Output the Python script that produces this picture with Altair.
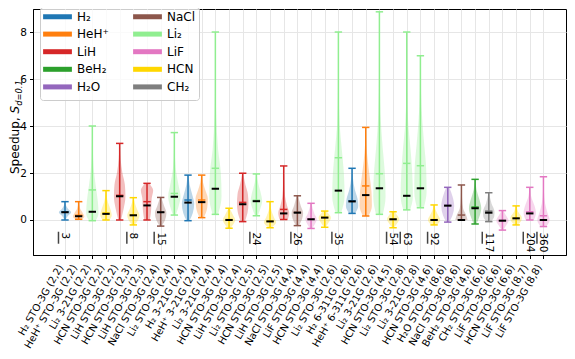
import json
import altair as alt
import pandas as pd

FONT = "DejaVu Sans"

categories = [
    "H₂ STO-3G (2,2)", "HeH⁺ STO-3G (2,2)", "Li₂ 3-21G (2,2)", "HCN STO-3G (2,2)", "LiH STO-3G (2,2)",
    "HCN STO-3G (2,3)", "LiH STO-3G (2,3)",
    "NaCl STO-3G (2,4)", "Li₂ STO-3G (2,4)", "H₂ 3-21G (2,4)", "HeH⁺ 3-21G (2,4)", "Li₂ 3-21G (2,4)",
    "HCN STO-3G (2,4)", "LiH STO-3G (2,4)",
    "Li₂ STO-3G (2,5)", "HCN STO-3G (2,5)", "LiH STO-3G (2,5)",
    "NaCl STO-3G (4,4)", "LiF STO-3G (4,4)", "HCN STO-3G (4,4)",
    "Li₂ STO-3G (2,6)", "H₂ 6-311G (2,6)", "HeH⁺ 6-311G (2,6)", "Li₂ 3-21G (2,6)",
    "HCN STO-3G (4,5)", "Li₂ STO-3G (2,8)", "Li₂ 3-21G (2,8)",
    "HCN STO-3G (4,6)", "H₂O STO-3G (8,6)", "NaCl STO-3G (8,6)", "BeH₂ STO-3G (4,6)",
    "CH₂ STO-3G (6,6)", "LiF STO-3G (6,6)", "HCN STO-3G (6,6)", "LiF STO-3G (8,7)", "LiF STO-3G (8,8)",
]
molecules = [c.split(" ")[0] for c in categories]

v_min = [0.0, 0.03, -0.03, 0.0, 0.0, -0.21, 0.0, -0.26, 0.21, -0.03, 0.10, 0.24, -0.35, -0.07,
         0.18, -0.33, 0.02, -0.24, -0.36, -0.31, 0.31, 0.28, 0.17, 0.24, -0.33, 0.43, 0.52,
         -0.21, -0.09, 0.0, -0.17, -0.07, -0.43, -0.21, 0.0, -0.28]
v_max = [0.78, 0.78, 4.0, 1.25, 3.26, 0.95, 1.56, 0.96, 3.72, 1.91, 1.91, 8.0, 0.5, 1.99,
         1.96, 0.78, 2.3, 1.03, 0.71, 0.38, 8.0, 2.2, 3.94, 8.86, 0.35, 8.0, 6.99,
         0.64, 1.39, 1.49, 1.73, 1.16, 0.4, 0.6, 1.39, 1.84]
v_mean = [0.35, 0.2, 1.28, 0.3, 1.05, 0.22, 0.78, 0.33, 1.13, 0.85, 0.85, 2.2, 0.02, 0.75,
          0.84, -0.05, 0.45, 0.33, 0.05, 0.12, 2.65, 0.82, 1.45, 1.97, 0.04, 2.41, 2.31,
          0.02, 0.62, 0.21, 0.55, 0.38, -0.02, 0.08, 0.35, 0.18]
v_median = [0.33, 0.16, 0.35, 0.26, 1.01, 0.2, 0.62, 0.33, 0.99, 0.74, 0.76, 1.33, 0.0, 0.67,
            0.8, -0.06, 0.28, 0.31, 0.03, 0.1, 1.25, 0.79, 1.06, 1.35, 0.03, 1.03, 1.35,
            0.0, 0.61, 0.0, 0.5, 0.31, -0.03, 0.07, 0.28, 0.0]

# violin outlines: (value, half-width in category units)
profiles = [
    [(0.0, 0.04), (0.18, 0.22), (0.33, 0.45), (0.48, 0.22), (0.63, 0.07), (0.78, 0.02)],
    [(0.03, 0.22), (0.15, 0.42), (0.3, 0.3), (0.5, 0.1), (0.78, 0.02)],
    [(-0.03, 0.25), (0.3, 0.45), (0.8, 0.4), (1.5, 0.24), (2.2, 0.1), (3.0, 0.04), (4.0, 0.01)],
    [(0.0, 0.25), (0.2, 0.42), (0.45, 0.33), (0.75, 0.14), (1.0, 0.06), (1.25, 0.02)],
    [(0.0, 0.1), (0.5, 0.3), (1.0, 0.42), (1.5, 0.38), (2.0, 0.2), (2.6, 0.07), (3.26, 0.02)],
    [(-0.21, 0.08), (0.0, 0.35), (0.2, 0.45), (0.45, 0.28), (0.7, 0.12), (0.95, 0.03)],
    [(0.0, 0.2), (0.3, 0.28), (0.6, 0.32), (0.9, 0.34), (1.25, 0.45), (1.45, 0.3), (1.56, 0.12)],
    [(-0.26, 0.08), (0.0, 0.32), (0.3, 0.42), (0.6, 0.25), (0.96, 0.05)],
    [(0.21, 0.1), (0.6, 0.32), (1.0, 0.45), (1.5, 0.3), (2.2, 0.1), (3.0, 0.03), (3.72, 0.01)],
    [(-0.03, 0.1), (0.3, 0.35), (0.7, 0.45), (1.1, 0.3), (1.5, 0.12), (1.91, 0.03)],
    [(0.1, 0.15), (0.5, 0.4), (0.9, 0.45), (1.3, 0.25), (1.6, 0.1), (1.91, 0.03)],
    [(0.24, 0.2), (1.0, 0.45), (2.0, 0.4), (3.0, 0.2), (4.5, 0.06), (6.0, 0.02), (8.0, 0.01)],
    [(-0.35, 0.1), (-0.15, 0.35), (0.0, 0.45), (0.2, 0.3), (0.5, 0.04)],
    [(-0.07, 0.15), (0.3, 0.35), (0.7, 0.42), (1.1, 0.38), (1.5, 0.2), (1.99, 0.03)],
    [(0.18, 0.1), (0.5, 0.3), (0.8, 0.42), (1.2, 0.3), (1.6, 0.12), (1.96, 0.03)],
    [(-0.33, 0.1), (-0.1, 0.45), (0.1, 0.3), (0.4, 0.1), (0.78, 0.02)],
    [(0.02, 0.3), (0.3, 0.4), (0.6, 0.25), (1.0, 0.1), (1.6, 0.04), (2.3, 0.01)],
    [(-0.24, 0.1), (0.05, 0.35), (0.3, 0.42), (0.6, 0.25), (1.03, 0.05)],
    [(-0.36, 0.08), (-0.1, 0.35), (0.03, 0.42), (0.25, 0.25), (0.71, 0.03)],
    [(-0.31, 0.05), (-0.1, 0.3), (0.1, 0.45), (0.25, 0.3), (0.38, 0.1)],
    [(0.31, 0.2), (1.0, 0.45), (2.0, 0.4), (3.0, 0.25), (4.0, 0.1), (5.5, 0.03), (8.0, 0.01)],
    [(0.28, 0.2), (0.6, 0.45), (0.9, 0.4), (1.3, 0.2), (1.8, 0.06), (2.2, 0.02)],
    [(0.17, 0.2), (0.6, 0.45), (1.2, 0.42), (1.8, 0.3), (2.5, 0.15), (3.2, 0.05), (3.94, 0.02)],
    [(0.24, 0.25), (1.0, 0.45), (2.0, 0.4), (3.0, 0.25), (4.5, 0.08), (6.5, 0.02), (8.86, 0.01)],
    [(-0.33, 0.05), (-0.1, 0.35), (0.03, 0.45), (0.2, 0.3), (0.35, 0.1)],
    [(0.43, 0.25), (1.0, 0.45), (2.0, 0.4), (3.0, 0.28), (4.0, 0.12), (5.5, 0.03), (8.0, 0.01)],
    [(0.52, 0.25), (1.2, 0.45), (2.2, 0.42), (3.2, 0.28), (4.2, 0.14), (5.5, 0.04), (6.99, 0.01)],
    [(-0.21, 0.2), (0.0, 0.45), (0.2, 0.3), (0.45, 0.1), (0.64, 0.02)],
    [(-0.09, 0.1), (0.2, 0.35), (0.6, 0.47), (1.0, 0.35), (1.39, 0.1)],
    [(0.0, 0.45), (0.2, 0.35), (0.5, 0.12), (0.9, 0.05), (1.49, 0.02)],
    [(-0.17, 0.1), (0.2, 0.35), (0.5, 0.45), (0.9, 0.3), (1.3, 0.1), (1.73, 0.02)],
    [(-0.07, 0.15), (0.15, 0.4), (0.35, 0.42), (0.7, 0.2), (1.16, 0.03)],
    [(-0.43, 0.05), (-0.2, 0.3), (-0.03, 0.45), (0.2, 0.25), (0.4, 0.05)],
    [(-0.21, 0.1), (0.0, 0.4), (0.1, 0.42), (0.35, 0.15), (0.6, 0.03)],
    [(0.0, 0.3), (0.3, 0.45), (0.6, 0.35), (0.9, 0.15), (1.39, 0.02)],
    [(-0.28, 0.2), (0.0, 0.45), (0.3, 0.3), (0.7, 0.12), (1.2, 0.04), (1.84, 0.01)],
]

count_idx = [0, 5, 7, 14, 17, 20, 24, 25, 27, 31, 34, 35]
count_text = ["3", "8", "15", "24", "26", "35", "54", "63", "92", "117", "204", "360"]

legend_order = ["H₂", "HeH⁺", "LiH", "BeH₂", "H₂O", "NaCl", "Li₂", "LiF", "HCN", "CH₂"]
legend_colors = ["#1f77b4", "#ff7f0e", "#d62728", "#2ca02c", "#9467bd", "#8c564b",
                 "#90ee90", "#e377c2", "#ffd700", "#7f7f7f"]

y_ticks = [0, 2, 4, 6, 8]

# ---------------------------------------------------------------- tables
stats = pd.DataFrame({
    "idx": list(range(len(categories))), "mol": molecules,
    "lo": v_min, "hi": v_max, "mean": v_mean, "median": v_median,
})
prof = pd.DataFrame([
    {"idx": i, "mol": molecules[i], "y": y, "w": w}
    for i, pr in enumerate(profiles) for (y, w) in pr
])
ann = pd.DataFrame({"idx": count_idx, "label": count_text})

xs = alt.Scale(domain=[-2.34, 36.65], nice=False, zero=False)
ys = alt.Scale(domain=[-1.49, 8.98], nice=False, zero=False)
cs = alt.Scale(domain=legend_order, range=legend_colors)

label_expr = json.dumps(categories, ensure_ascii=False) + "[round(datum.value)]"
xaxis = alt.Axis(values=list(range(len(categories))), labelExpr=label_expr, labelAngle=-60,
                 labelAlign="right", labelBaseline="bottom", labelPadding=9,
                 labelOverlap=False, labelBound=False, labelFlush=False, title=None)
yaxis = alt.Axis(values=y_ticks, title=None, labelPadding=3)

legend = alt.Legend(
    title=None, orient="none", legendX=7, legendY=-2, columns=2,
    symbolType="M-3.6,0H3.6", symbolSize=64, symbolStrokeWidth=5, symbolOffset=8,
    symbolOpacity=1, labelOffset=13, labelFontSize=12, labelFont=FONT, labelColor="black",
    rowPadding=-3.4, columnPadding=14, padding=3, strokeColor="#cccccc",
    fillColor="rgba(255,255,255,0.8)", cornerRadius=3,
)
color = alt.Color("mol:N", scale=cs, legend=legend)

violins = alt.Chart(prof).transform_calculate(
    xl="datum.idx - datum.w", xr="datum.idx + datum.w"
).mark_area(orient="horizontal", interpolate="monotone", opacity=0.3).encode(
    y=alt.Y("y:Q", scale=ys, axis=yaxis),
    x=alt.X("xl:Q", scale=xs, axis=xaxis),
    x2="xr:Q",
    color=color,
    detail="idx:N",
)

whiskers = alt.Chart(stats).mark_rule(strokeWidth=1.5).encode(
    x=alt.X("idx:Q", scale=xs, axis=xaxis),
    y=alt.Y("lo:Q", scale=ys, axis=yaxis),
    y2="hi:Q",
    color=color,
)

caps = alt.Chart(stats).transform_fold(
    ["lo", "hi", "mean"], as_=["k", "v"]
).transform_calculate(
    cl="datum.idx - 0.27", cr="datum.idx + 0.27"
).mark_rule(strokeWidth=1.5).encode(
    x=alt.X("cl:Q", scale=xs, axis=xaxis), x2="cr:Q",
    y=alt.Y("v:Q", scale=ys, axis=yaxis),
    color=color,
)

medians = alt.Chart(stats).transform_calculate(
    cl="datum.idx - 0.27", cr="datum.idx + 0.27"
).mark_rule(strokeWidth=2, color="black").encode(
    x=alt.X("cl:Q", scale=xs, axis=xaxis), x2="cr:Q",
    y=alt.Y("median:Q", scale=ys, axis=yaxis),
)

count_bars = alt.Chart(ann).mark_rule(color="#444444", strokeWidth=1.5, xOffset=-6.5).encode(
    x=alt.X("idx:Q", scale=xs, axis=xaxis),
    y=alt.datum(-0.50), y2=alt.datum(-1.01),
)
count_labels = alt.Chart(ann).mark_text(
    angle=90, align="left", baseline="middle", fontSize=10.5, font=FONT, color="black"
).encode(
    x=alt.X("idx:Q", scale=xs, axis=xaxis),
    y=alt.datum(-0.53),
    text="label:N",
)

title_main = alt.Chart(pd.DataFrame({"t": ["Speedup, "]})).mark_text(
    angle=270, align="left", baseline="alphabetic", fontSize=12, font=FONT, color="black"
).encode(x=alt.value(-14), y=alt.value(165), text="t:N")
title_s = alt.Chart(pd.DataFrame({"t": ["S"]})).mark_text(
    angle=270, align="left", baseline="alphabetic", fontSize=12, font=FONT,
    fontStyle="italic", color="black"
).encode(x=alt.value(-14), y=alt.value(104.5), text="t:N")
title_sub = alt.Chart(pd.DataFrame({"t": ["d=0.1"]})).mark_text(
    angle=270, align="left", baseline="alphabetic", fontSize=8.4, font=FONT,
    fontStyle="italic", color="black"
).encode(x=alt.value(-11.5), y=alt.value(96.8), text="t:N")

chart = alt.layer(
    violins, whiskers, caps, medians, count_bars, count_labels, title_main, title_s, title_sub
).properties(
    width=533, height=246,
    autosize=alt.AutoSizeParams(type="none"),
    padding={"left": 25, "top": 1, "right": 1, "bottom": 96},
).configure_view(
    stroke="black", strokeWidth=1
).configure_axis(
    labelFont=FONT, labelFontSize=10.5, labelColor="black",
    tickSize=3.5, tickColor="black", domainColor="black", domainWidth=1,
    gridColor="#e6e6e6", gridWidth=1,
).configure_axisX(labelFontSize=10)

chart.save("out.html", embed_options={"renderer": "svg", "actions": False})
